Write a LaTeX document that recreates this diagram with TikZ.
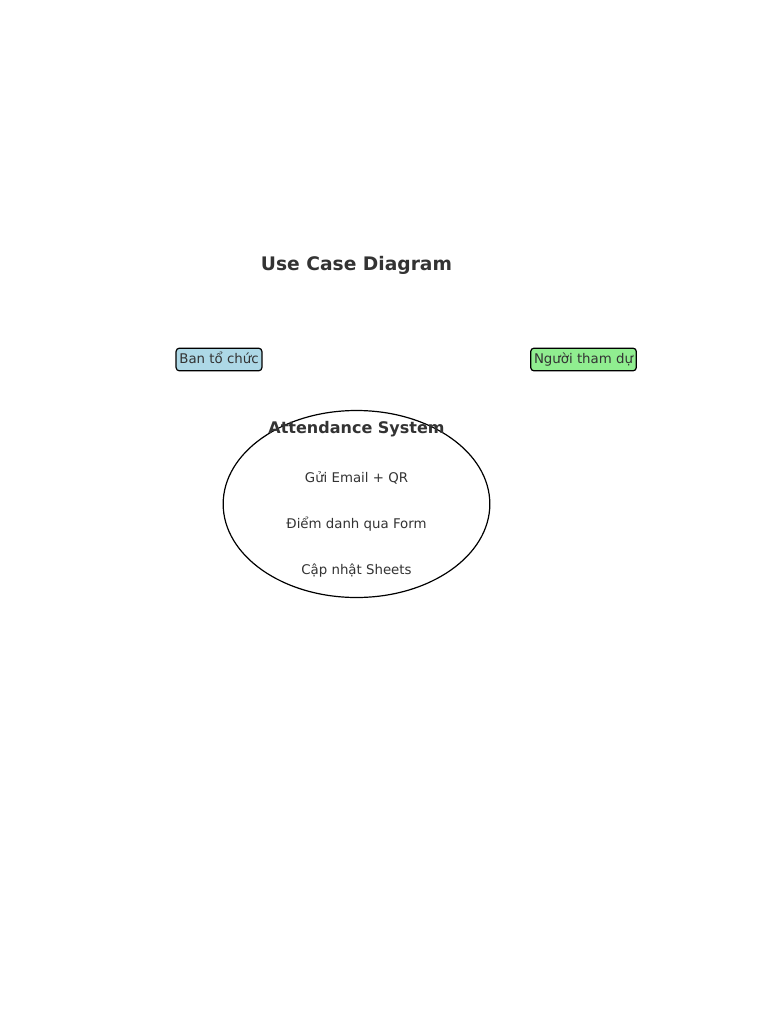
\documentclass[tikz,border=0pt]{standalone}
\usepackage{fontspec}
\usetikzlibrary{shapes.geometric}
\setmainfont{DejaVu Sans}
\definecolor{txt}{HTML}{333333}
\definecolor{actorblue}{HTML}{ADD8E6}
\definecolor{actorgreen}{HTML}{90EE90}
\begin{document}
\begin{tikzpicture}[x=0.75pt,y=-0.75pt,
  actor/.style={draw=black, line width=0.9pt, rounded corners=2.5pt, inner xsep=2.5pt, inner ysep=2.6pt, text height=9.2pt, text depth=2.6pt, text=txt, font=\fontsize{10}{12}\selectfont},
  usecase/.style={text=txt, font=\fontsize{10}{12}\selectfont},
  heading/.style={text=txt, font=\bfseries\fontsize{12}{14}\selectfont}]
\useasboundingbox[fill=white] (0,0) rectangle (768,1024);
\node[text=txt, font=\bfseries\fontsize{14}{17}\selectfont] (title) at (356.5,265) {Use Case Diagram};
\node[actor, fill=actorblue] (org) at (219,359.5) {Ban tổ chức};
\node[actor, fill=actorgreen] (att) at (583.5,359.5) {Người tham dự};
\node[draw=black, line width=0.9pt, ellipse, minimum width=200pt, minimum height=140.25pt, inner sep=0pt, outer sep=0pt] (sys) at (356.5,504) {};
\node[heading] (sysname) at (356.5,429.5) {Attendance System};
\node[usecase] (uc1) at (356.5,477.5) {Gửi Email + QR};
\node[usecase] (uc2) at (356.5,524) {Điểm danh qua Form};
\node[usecase] (uc3) at (356.5,570.5) {Cập nhật Sheets};
\end{tikzpicture}
\end{document}
